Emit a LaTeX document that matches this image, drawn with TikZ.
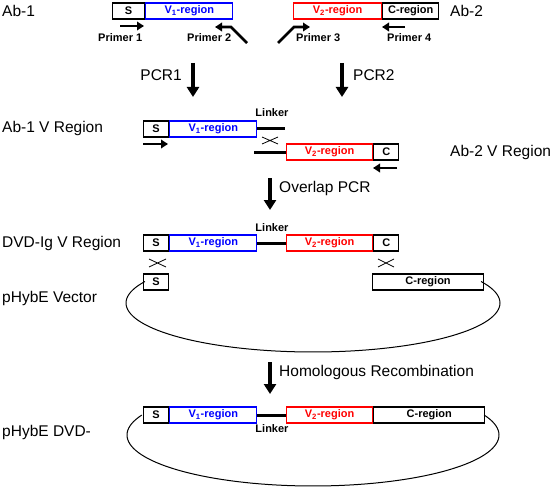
\documentclass[tikz,border=0pt]{standalone}
\usepackage{fontspec}
\setmainfont{Liberation Sans}
\usetikzlibrary{arrows.meta}
\begin{document}
\begin{tikzpicture}[x=1pt,y=-1pt,
  seg/.style={draw, line width=1.2pt, minimum height=16pt, inner sep=0pt, anchor=west, font=\fontsize{11}{12}\selectfont\bfseries},
  vone/.style={seg, draw=blue, text=blue},
  vtwo/.style={seg, draw=red, text=red},
  big/.style={font=\fontsize{15.5}{18}\selectfont, inner sep=0pt},
  small/.style={font=\fontsize{11}{12}\selectfont\bfseries, inner sep=0pt},
  bigarrow/.style={line width=3.8pt, -{Triangle[width=12pt,length=10pt]}},
  primer/.style={line width=2.8pt, -{Triangle[width=8.5pt,length=7pt]}},
  linker/.style={line width=3pt},
  cross/.style={line width=0.8pt},
  loop/.style={line width=1pt}
]
\useasboundingbox (0,0) rectangle (553,489);

% ---------- Row 1 ----------
\node[big, anchor=west] (ab1) at (2,11) {Ab-1};
\node[big, anchor=west] (ab2) at (450,11) {Ab-2};
\node[seg, minimum width=32pt] (s1) at (112,11) {S};
\node[vone, minimum width=87pt] (v1) at (s1.east) {V\textsubscript{1}-region};
\node[vtwo, minimum width=88pt] (v2) at (293,11) {V\textsubscript{2}-region};
\node[seg, minimum width=56pt] (c2) at (v2.east) {C-region};

\coordinate (p1a) at (120,26); \coordinate (p1b) at (144,26);
\draw[primer] (p1a) -- (p1b);
\coordinate (p2a) at (247,43); \coordinate (p2m) at (231,27); \coordinate (p2b) at (215,27);
\draw[primer] (p2a) -- (p2m) -- (p2b);
\coordinate (p3a) at (278,43); \coordinate (p3m) at (294,27); \coordinate (p3b) at (310,27);
\draw[primer] (p3a) -- (p3m) -- (p3b);
\coordinate (p4a) at (405,27); \coordinate (p4b) at (382,27);
\draw[primer] (p4a) -- (p4b);
\node[small, anchor=west] (pr1) at (98,38) {Primer 1};
\node[small, anchor=west] (pr2) at (187,38) {Primer 2};
\node[small, anchor=west] (pr3) at (296,38) {Primer 3};
\node[small, anchor=west] (pr4) at (387,38) {Primer 4};

% ---------- PCR arrows ----------
\coordinate (a1a) at (193,63); \coordinate (a1b) at (193,97);
\draw[bigarrow] (a1a) -- (a1b);
\node[big, anchor=east] (pcr1) at (182,75) {PCR1};
\coordinate (a2a) at (342,63); \coordinate (a2b) at (342,97);
\draw[bigarrow] (a2a) -- (a2b);
\node[big, anchor=west] (pcr2) at (353,75) {PCR2};

% ---------- Row 2 ----------
\node[big, anchor=west] (ab1v) at (2,128) {Ab-1 V Region};
\node[big, anchor=west] (ab2v) at (450,152) {Ab-2 V Region};
\node[seg, minimum width=25pt] (s2) at (143,129) {S};
\node[vone, minimum width=87pt] (v1b) at (s2.east) {V\textsubscript{1}-region};
\coordinate (l2a) at (285,129);
\draw[linker] (v1b.east) -- (l2a);
\node[small] (lk2) at (272,113) {Linker};
\draw[cross] (262,137) -- (278,144) (262,144) -- (278,137);
\node[vtwo, minimum width=86pt] (v2b) at (286,152) {V\textsubscript{2}-region};
\node[seg, minimum width=25pt] (c2b) at (v2b.east) {C};
\coordinate (l2b) at (254,152);
\draw[linker] (l2b) -- (v2b.west);
\coordinate (f1a) at (143,144); \coordinate (f1b) at (168,144);
\draw[primer] (f1a) -- (f1b);
\coordinate (f2a) at (397,168); \coordinate (f2b) at (373,168);
\draw[primer] (f2a) -- (f2b);

% ---------- Overlap PCR ----------
\coordinate (a3a) at (270,178); \coordinate (a3b) at (270,210);
\draw[bigarrow] (a3a) -- (a3b);
\node[big, anchor=west] (ovl) at (279,188) {Overlap PCR};

% ---------- Row 3 ----------
\node[big, anchor=west] (dvdv) at (2,243) {DVD-Ig V Region};
\node[seg, minimum width=25pt] (s3) at (143,243) {S};
\node[vone, minimum width=87pt] (v1c) at (s3.east) {V\textsubscript{1}-region};
\node[vtwo, minimum width=86pt] (v2c) at (286,243) {V\textsubscript{2}-region};
\node[seg, minimum width=25pt] (c3) at (v2c.east) {C};
\draw[linker] (v1c.east) -- (v2c.west);
\node[small] (lk3) at (272,228) {Linker};
\draw[cross] (149,259) -- (166,267) (149,267) -- (166,259);
\draw[cross] (378,259) -- (394,267) (378,267) -- (394,259);

\node[big, anchor=west] (vec) at (2,298) {pHybE Vector};
\node[seg, minimum width=25pt] (s3b) at (143,282) {S};
\node[seg, minimum width=111pt] (c3b) at (372,282) {C-region};
\draw[loop] plot[domain=-26:206, samples=90] ({313+187*cos(\x)},{303+49*sin(\x)});

% ---------- Homologous Recombination ----------
\coordinate (a4a) at (270,362); \coordinate (a4b) at (270,394);
\draw[bigarrow] (a4a) -- (a4b);
\node[big, anchor=west] (hom) at (279,372) {Homologous Recombination};

% ---------- Row 4 ----------
\node[big, anchor=west] (dvd) at (2,432) {pHybE DVD-};
\node[seg, minimum width=25pt] (s4) at (143,415) {S};
\node[vone, minimum width=87pt] (v1d) at (s4.east) {V\textsubscript{1}-region};
\node[vtwo, minimum width=86pt] (v2d) at (286,415) {V\textsubscript{2}-region};
\node[seg, minimum width=111pt] (c4) at (v2d.east) {C-region};
\draw[linker] (v1d.east) -- (v2d.west);
\node[small] (lk4) at (272,429) {Linker};
\draw[loop] plot[domain=-23:203, samples=90] ({313+186*cos(\x)},{435+51*sin(\x)});
\end{tikzpicture}
\end{document}
